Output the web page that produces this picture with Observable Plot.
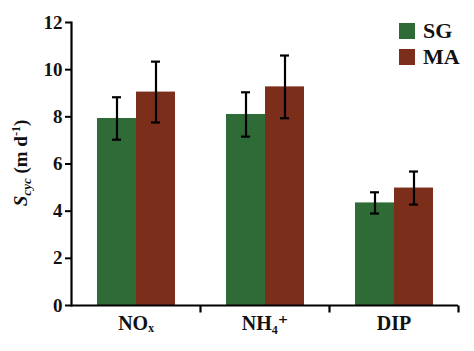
<!DOCTYPE html>
<html><head><meta charset="utf-8">
<script src="https://cdn.jsdelivr.net/npm/d3@7"></script>
<script src="https://cdn.jsdelivr.net/npm/@observablehq/plot@0.6"></script>
<style>body{margin:0;background:#fff}</style>
</head><body><div id="chart"></div>
<script>
const categories = ["NOₓ", "NH₄⁺", "DIP"];
const seriesNames = ["SG", "MA"];
const sgMeans = [7.93, 8.10, 4.35];
const sgErrors = [0.90, 0.94, 0.45];
const maMeans = [9.05, 9.27, 4.98];
const maErrors = [1.29, 1.33, 0.70];
const yTicks = [0, 2, 4, 6, 8, 10, 12];
const colors = ["#2f6b36", "#7b2f1b"];

const rows = [];
categories.forEach((c, i) => {
  rows.push({category: c, series: "SG", value: sgMeans[i], err: sgErrors[i]});
  rows.push({category: c, series: "MA", value: maMeans[i], err: maErrors[i]});
});

const boundaryTick = {draw(ctx) { ctx.moveTo(0, 0); ctx.lineTo(0, 7); }};
const serif = "'Liberation Serif', 'Times New Roman', 'DejaVu Serif', serif";

const plot = Plot.plot({
  width: 474, height: 351,
  marginLeft: 70, marginRight: 16, marginTop: 22, marginBottom: 46,
  style: {fontFamily: serif, fontSize: "18px", fontWeight: "bold", color: "#111", background: "#fff"},
  fx: {domain: categories, padding: 0, label: null},
  x: {domain: seriesNames, paddingInner: 0, paddingOuter: 0.64, axis: null},
  y: {domain: [0, 12], label: null},
  color: {domain: seriesNames, range: colors},
  marks: [
    Plot.barY(rows, {fx: "category", x: "series", y: "value", fill: "series"}),
    Plot.ruleX(rows, {fx: "category", x: "series", y1: d => d.value - d.err, y2: d => d.value + d.err, stroke: "#000", strokeWidth: 2.2}),
    Plot.tickY(rows, {fx: "category", x: "series", y: d => d.value + d.err, stroke: "#000", strokeWidth: 2.2, insetLeft: 15, insetRight: 15}),
    Plot.tickY(rows, {fx: "category", x: "series", y: d => d.value - d.err, stroke: "#000", strokeWidth: 2.2, insetLeft: 15, insetRight: 15}),
    Plot.ruleY([0], {stroke: "#000", strokeWidth: 2.2}),
    Plot.dot([0], {frameAnchor: "bottom-right", symbol: boundaryTick, stroke: "#000", strokeWidth: 2.2}),
    Plot.frame({anchor: "left", facetAnchor: "left", stroke: "#000", strokeWidth: 2.2}),
    Plot.axisY(yTicks, {label: null, tickSize: 6, tickPadding: 3, fontSize: 19, fontWeight: "bold", fontFamily: serif, strokeWidth: 2, stroke: "#000", fill: "#111"}),
    Plot.axisFx({anchor: "bottom", label: null, tickSize: 0, tickPadding: 10, fontSize: 20, fontWeight: "bold", fontFamily: serif, fill: "#111"})
  ]
});

const svg = d3.select(plot);
const lab = svg.append("text")
  .attr("transform", "translate(27,163) rotate(-90)")
  .attr("text-anchor", "middle").attr("font-family", serif)
  .attr("font-size", 19).attr("font-weight", "bold").attr("fill", "#111");
lab.append("tspan").attr("font-style", "italic").text("S");
lab.append("tspan").attr("font-style", "italic").attr("font-size", 13).attr("dy", 4).text("cyc");
lab.append("tspan").attr("dy", -4).text(" (m d");
lab.append("tspan").attr("font-size", 12).attr("dy", -7).text("-1");
lab.append("tspan").attr("dy", 7).text(")");

const leg = svg.append("g").attr("text-anchor", "start").attr("font-family", serif);
seriesNames.forEach((s, i) => {
  const g = leg.append("g").attr("transform", `translate(399,${23 + i * 26})`);
  g.append("rect").attr("width", 16).attr("height", 16).attr("fill", colors[i]);
  g.append("text").attr("x", 24).attr("y", 15).attr("font-size", 22).attr("font-weight", "bold").attr("fill", "#111").text(s);
});

document.getElementById("chart").appendChild(plot);
</script>
</body></html>
